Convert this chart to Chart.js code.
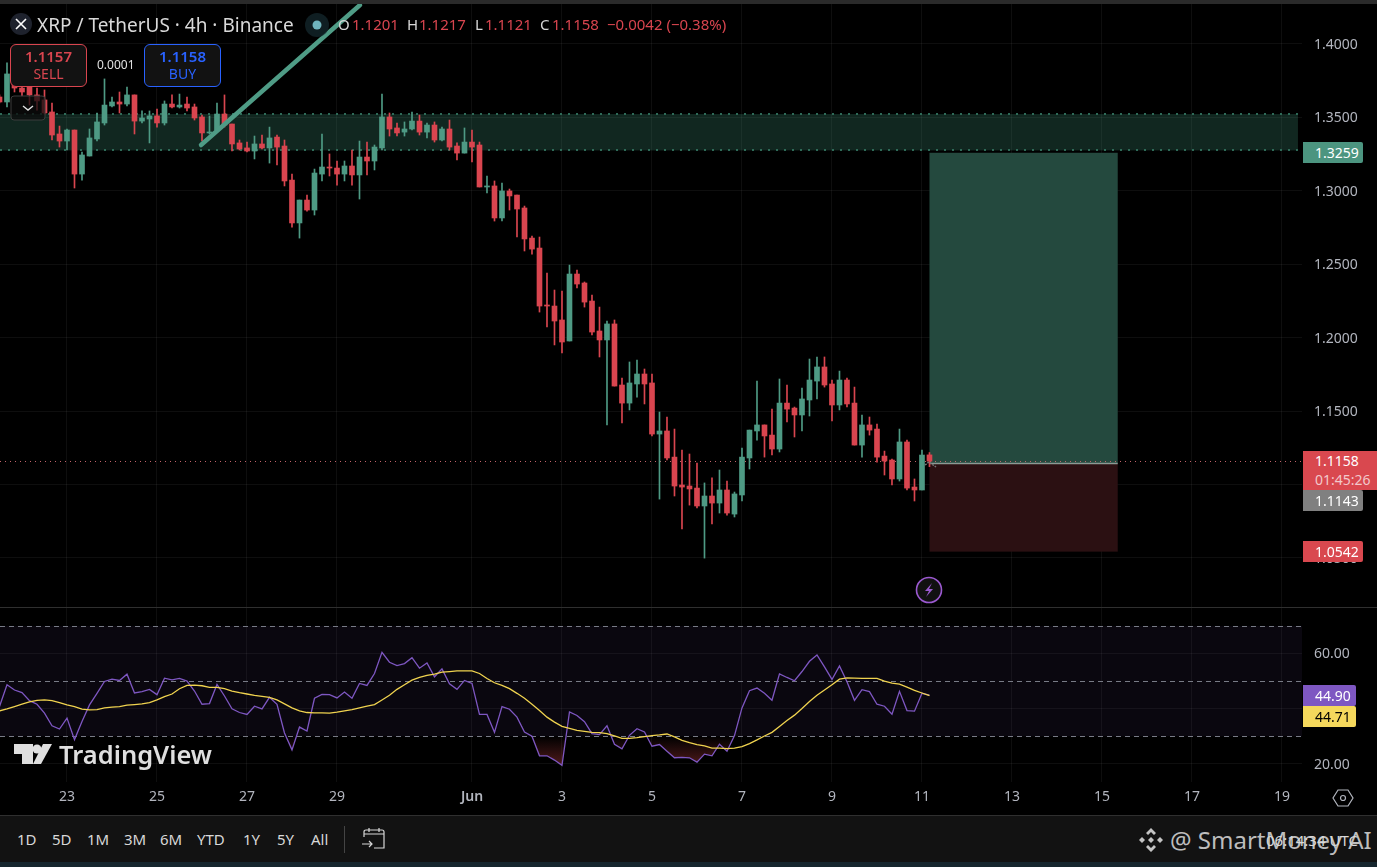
<!DOCTYPE html>
<html>
<head>
<meta charset="utf-8">
<title>XRP / TetherUS</title>
<script src="https://cdn.jsdelivr.net/npm/chart.js@4/dist/chart.umd.min.js"></script>
<style>
html, body { margin: 0; padding: 0; background: #000; overflow: hidden; }
body { width: 1377px; height: 867px; position: relative; font-family: "Noto Sans", sans-serif; color: #d6d6d6; }
canvas { position: absolute; left: 0; }
#priceChart { top: 0; }
#rsiChart { top: 608px; }
.abs { position: absolute; white-space: nowrap; }
.tag { position: absolute; left: 1303px; width: 60px; height: 21px; line-height: 21px; font-size: 14px; color: #fff; padding-left: 12px; box-sizing: border-box; border-radius: 0 2px 2px 0; }
.btn { position: absolute; top: 44px; width: 75px; height: 41px; border-radius: 6px; background: #121212; text-align: center; }
.btn b { display: block; font-size: 15px; line-height: 19px; margin-top: 2px; font-weight: 600; }
.btn span { display: block; font-size: 14px; line-height: 15px; }
.range { position: absolute; top: 829px; font-size: 15px; line-height: 20px; color: #d8d8d8; }
.ohlc { position: absolute; top: 14px; font-size: 15px; line-height: 20px; }
</style>
</head>
<body>
<canvas id="priceChart" width="1377" height="607"></canvas>
<canvas id="rsiChart" width="1377" height="207"></canvas>

<!-- header -->
<div class="abs" style="left:0;top:0;width:1377px;height:4px;background:#2a2a2a"></div>
<svg class="abs" style="left:10px;top:13px" width="22" height="22"><circle cx="11" cy="11" r="11" fill="#1e222d"/><path d="M6 6 L16 16 M16 6 L6 16" stroke="#fff" stroke-width="1.6"/></svg>
<div class="abs" style="left:37px;top:13px;font-size:19px;line-height:24px;color:#d9d9d9">XRP / TetherUS · 4h · Binance</div>
<svg class="abs" style="left:304px;top:12px" width="26" height="26"><circle cx="13" cy="13" r="12" fill="#13262a" fill-opacity="0.8"/><circle cx="13" cy="13" r="4.5" fill="#6fb4bd"/></svg>
<div class="ohlc" style="left:338px;color:#d6d6d6">O</div><div class="ohlc" style="left:352px;color:#d9454f">1.1201</div>
<div class="ohlc" style="left:407px;color:#d6d6d6">H</div><div class="ohlc" style="left:419px;color:#d9454f">1.1217</div>
<div class="ohlc" style="left:475px;color:#d6d6d6">L</div><div class="ohlc" style="left:485px;color:#d9454f">1.1121</div>
<div class="ohlc" style="left:540px;color:#d6d6d6">C</div><div class="ohlc" style="left:552px;color:#d9454f">1.1158</div>
<div class="ohlc" style="left:607px;color:#d9454f">−0.0042 (−0.38%)</div>

<div class="btn" style="left:10px;border:1px solid #d9454f;color:#d9454f"><b>1.1157</b><span>SELL</span></div>
<div class="abs" style="left:97px;top:56px;font-size:12px;line-height:18px;color:#e0e0e0">0.0001</div>
<div class="btn" style="left:144px;border:1px solid #2962ff;color:#2962ff"><b>1.1158</b><span>BUY</span></div>
<svg class="abs" style="left:10px;top:95px" width="36" height="26"><rect x="1" y="1" width="34" height="24" rx="3" fill="#0c0c0c" fill-opacity="0.75" stroke="#3c3c3c"/><path d="M13 11 L18 15 L23 11" fill="none" stroke="#e0e0e0" stroke-width="1.4"/></svg>

<!-- position tool handle and alert icon -->
<svg class="abs" style="left:922px;top:458px" width="18" height="14"><path d="M3 7 L7 4 L14 9" fill="none" stroke="#777" stroke-width="1.5" stroke-dasharray="2 1"/></svg>
<svg class="abs" style="left:915px;top:576px" width="28" height="28"><circle cx="14" cy="14" r="12.5" fill="#111" stroke="#9b59d0" stroke-width="1.6"/><path d="M17 7 L10 15 L14 15 L11 21 L18 13 L14 13 Z" fill="#9b59d0"/></svg>

<!-- price scale tags -->
<div class="tag" style="top:142px;background:#4c9580">1.3259</div>
<div class="tag" style="top:451px;width:74px;height:39px;background:#d9484f;line-height:19px;border-radius:0">1.1158<br><span style="color:#f2c9cb">01:45:26</span></div>
<div class="tag" style="top:490px;background:#808080">1.1143</div>
<div class="tag" style="top:541px;background:#d9484f">1.0542</div>
<div class="tag" style="top:685px;width:53px;background:#7e57c2">44.90</div>
<div class="tag" style="top:706px;width:53px;background:#f5d85c;color:#000">44.71</div>

<!-- pane separator and bottom bar -->
<div class="abs" style="left:0;top:607px;width:1377px;height:1px;background:#2f2f2f"></div>
<svg class="abs" style="left:1332px;top:787px" width="22" height="22"><path d="M6 3 H16 L21 11 L16 19 H6 L1 11 Z" fill="none" stroke="#b2b5be" stroke-width="1.2"/><circle cx="11" cy="11" r="2.5" fill="none" stroke="#b2b5be" stroke-width="1.2"/></svg>
<div class="abs" style="left:0;top:815px;width:1377px;height:47px;background:#121212;border-top:1px solid #2f2f2f;box-sizing:border-box"></div>
<div class="abs" style="left:0;top:862px;width:1377px;height:5px;background:#16262e"></div>
<div class="range" style="left:17px">1D</div>
<div class="range" style="left:52px">5D</div>
<div class="range" style="left:87px">1M</div>
<div class="range" style="left:124px">3M</div>
<div class="range" style="left:160px">6M</div>
<div class="range" style="left:197px">YTD</div>
<div class="range" style="left:243px">1Y</div>
<div class="range" style="left:277px">5Y</div>
<div class="range" style="left:311px">All</div>
<div class="abs" style="left:344px;top:826px;width:1px;height:27px;background:#444"></div>
<svg class="abs" style="left:361px;top:827px" width="26" height="24"><path d="M3 10 V5 Q3 3 5 3 H21 Q23 3 23 5 V21 H13 M3 7 H23 M8 1 V5 M18 1 V5 M1 17 H11 M8 14 L11 17 L8 20" fill="none" stroke="#d8d8d8" stroke-width="1.2"/></svg>

<!-- watermarks -->
<svg class="abs" style="left:12px;top:743px" width="44" height="24"><g fill="#dfdfdf"><path d="M2 1 H21 V21 H10 V11 H2 Z"/><circle cx="25" cy="6" r="4.5"/><path d="M31 1 H40 L29 21 H21 Z"/></g></svg>
<div class="abs" style="left:59px;top:737px;font-size:25.5px;line-height:34px;font-weight:600;color:#dfdfdf">TradingView</div>
<svg class="abs" style="left:1136px;top:825px" width="30" height="30"><g fill="#c4c4c4"><path d="M15 3 L20 8 L18 10 L15 7 L12 10 L10 8 Z"/><path d="M15 27 L20 22 L18 20 L15 23 L12 20 L10 22 Z"/><path d="M3 15 L6 12 L9 15 L6 18 Z"/><path d="M27 15 L24 12 L21 15 L24 18 Z"/><path d="M15 12 L18 15 L15 18 L12 15 Z"/></g></svg>
<div class="abs" style="left:1170px;top:823px;font-size:24px;line-height:34px;color:#bdbdbd">@ SmartMoney AI</div>
<div class="abs" style="left:1266px;top:830px;font-size:15px;line-height:20px;color:#d8d8d8">06:14:34 UTC</div>

<script>
// 4h candles, first one is two days of bars before the 23rd
const firstBar = -9;
const opens = [
  1.3639, 1.3605, 1.3755, 1.3700, 1.3707, 1.3653, 1.3619, 1.3537, 1.3387, 1.3339,
  1.3414, 1.3114, 1.3237, 1.3353, 1.3462, 1.3578, 1.3605, 1.3591, 1.3653, 1.3475,
  1.3489, 1.3510, 1.3462, 1.3591, 1.3571, 1.3591, 1.3571, 1.3503, 1.3394, 1.3414,
  1.3523, 1.3455, 1.3326, 1.3292, 1.3271, 1.3319, 1.3292, 1.3366, 1.3305, 1.3073,
  1.2781, 1.2937, 1.2869, 1.3114, 1.3162, 1.3155, 1.3114, 1.3169, 1.3108, 1.3230,
  1.3203, 1.3292, 1.3503, 1.3428, 1.3400, 1.3421, 1.3475, 1.3400, 1.3448, 1.3346,
  1.3421, 1.3305, 1.3257, 1.3332, 1.3312, 1.3026, 1.3033, 1.2815, 1.2999, 1.2971,
  1.2883, 1.2678, 1.2610, 1.2222, 1.2215, 1.2120, 1.1977, 1.2433, 1.2372, 1.2249,
  1.2045, 1.1984, 1.2093, 1.1677, 1.1554, 1.1684, 1.1752, 1.1691, 1.1343, 1.1364,
  1.1186, 1.0996, 1.0989, 1.0975, 1.0853, 1.0921, 1.0873, 1.0962, 1.0798, 1.0928,
  1.1180, 1.1364, 1.1405, 1.1336, 1.1241, 1.1554, 1.1520, 1.1473, 1.1575, 1.1704,
  1.1800, 1.1684, 1.1541, 1.1711, 1.1554, 1.1268, 1.1405, 1.1377, 1.1193, 1.1166,
  1.1037, 1.1289, 1.0982, 1.0962, 1.1201
];
const highs = [
  1.3653, 1.3871, 1.3809, 1.3721, 1.3721, 1.3700, 1.3687, 1.3598, 1.3441, 1.3421,
  1.3414, 1.3264, 1.3421, 1.3530, 1.3762, 1.3639, 1.3673, 1.3707, 1.3653, 1.3544,
  1.3544, 1.3557, 1.3612, 1.3653, 1.3659, 1.3639, 1.3591, 1.3516, 1.3510, 1.3598,
  1.3653, 1.3455, 1.3346, 1.3332, 1.3373, 1.3380, 1.3434, 1.3380, 1.3346, 1.3114,
  1.2937, 1.2971, 1.3148, 1.3387, 1.3251, 1.3203, 1.3203, 1.3278, 1.3339, 1.3332,
  1.3312, 1.3659, 1.3530, 1.3462, 1.3469, 1.3537, 1.3516, 1.3462, 1.3469, 1.3434,
  1.3482, 1.3326, 1.3428, 1.3414, 1.3332, 1.3101, 1.3067, 1.3053, 1.3012, 1.2971,
  1.2896, 1.2692, 1.2685, 1.2440, 1.2324, 1.2317, 1.2494, 1.2460, 1.2379, 1.2290,
  1.2208, 1.2113, 1.2120, 1.1725, 1.1834, 1.1847, 1.1786, 1.1752, 1.1493, 1.1459,
  1.1377, 1.1234, 1.1207, 1.1146, 1.1010, 1.1044, 1.1098, 1.1023, 1.0948, 1.1248,
  1.1370, 1.1704, 1.1405, 1.1513, 1.1718, 1.1677, 1.1527, 1.1657, 1.1854, 1.1868,
  1.1868, 1.1711, 1.1772, 1.1725, 1.1663, 1.1473, 1.1459, 1.1411, 1.1227, 1.1173,
  1.1377, 1.1302, 1.1037, 1.1234, 1.1217
];
const lows = [
  1.3598, 1.3571, 1.3673, 1.3646, 1.3584, 1.3550, 1.3523, 1.3346, 1.3298, 1.3278,
  1.3019, 1.3073, 1.3237, 1.3339, 1.3448, 1.3571, 1.3530, 1.3578, 1.3387, 1.3462,
  1.3326, 1.3434, 1.3448, 1.3564, 1.3564, 1.3544, 1.3482, 1.3339, 1.3387, 1.3407,
  1.3434, 1.3271, 1.3278, 1.3264, 1.3217, 1.3285, 1.3189, 1.3176, 1.3033, 1.2753,
  1.2678, 1.2862, 1.2835, 1.3067, 1.3101, 1.3039, 1.3067, 1.3039, 1.2944, 1.3108,
  1.3142, 1.3278, 1.3373, 1.3373, 1.3373, 1.3414, 1.3380, 1.3360, 1.3332, 1.3339,
  1.3278, 1.3210, 1.3257, 1.3196, 1.3026, 1.2985, 1.2794, 1.2794, 1.2869, 1.2685,
  1.2590, 1.2569, 1.2174, 1.2072, 1.1950, 1.1895, 1.1977, 1.2338, 1.2208, 1.2018,
  1.1868, 1.1405, 1.1670, 1.1418, 1.1507, 1.1595, 1.1548, 1.1330, 1.0900, 1.1166,
  1.0921, 1.0696, 1.0859, 1.0839, 1.0498, 1.0730, 1.0805, 1.0791, 1.0778, 1.0887,
  1.1105, 1.1302, 1.1186, 1.1200, 1.1221, 1.1425, 1.1323, 1.1364, 1.1466, 1.1582,
  1.1663, 1.1432, 1.1507, 1.1527, 1.1268, 1.1186, 1.1336, 1.1152, 1.1064, 1.0996,
  1.1023, 1.0962, 1.0887, 1.0962, 1.1121
];
const closes = [
  1.3605, 1.3796, 1.3700, 1.3673, 1.3653, 1.3612, 1.3530, 1.3380, 1.3339, 1.3414,
  1.3114, 1.3244, 1.3360, 1.3469, 1.3584, 1.3605, 1.3591, 1.3653, 1.3475, 1.3496,
  1.3510, 1.3462, 1.3591, 1.3571, 1.3584, 1.3564, 1.3496, 1.3394, 1.3400, 1.3523,
  1.3448, 1.3319, 1.3285, 1.3271, 1.3319, 1.3292, 1.3360, 1.3298, 1.3067, 1.2781,
  1.2937, 1.2869, 1.3121, 1.3162, 1.3155, 1.3114, 1.3169, 1.3108, 1.3230, 1.3203,
  1.3298, 1.3503, 1.3421, 1.3394, 1.3421, 1.3475, 1.3400, 1.3448, 1.3346, 1.3421,
  1.3298, 1.3257, 1.3332, 1.3298, 1.3026, 1.3033, 1.2815, 1.2999, 1.2965, 1.2876,
  1.2672, 1.2603, 1.2215, 1.2215, 1.2113, 1.1970, 1.2433, 1.2365, 1.2242, 1.2038,
  1.1984, 1.2093, 1.1670, 1.1554, 1.1691, 1.1752, 1.1684, 1.1343, 1.1364, 1.1180,
  1.0989, 1.0982, 1.0969, 1.0853, 1.0921, 1.0873, 1.0962, 1.0805, 1.0935, 1.1186,
  1.1370, 1.1405, 1.1330, 1.1241, 1.1554, 1.1513, 1.1473, 1.1582, 1.1711, 1.1800,
  1.1677, 1.1541, 1.1711, 1.1548, 1.1268, 1.1405, 1.1370, 1.1186, 1.1159, 1.1037,
  1.1289, 1.0975, 1.0962, 1.1200, 1.1158
];
const rsiValues = [
  40.78, 48.68, 46.77, 45.81, 42.93, 41.62, 38.38, 33.83, 32.64, 36.59,
  28.80, 35.39, 41.38, 45.57, 49.88, 50.72, 50.24, 52.52, 45.69, 46.17,
  47.01, 45.09, 51.08, 50.48, 50.96, 50.00, 46.41, 41.62, 41.86, 48.80,
  44.61, 39.94, 38.62, 37.91, 40.90, 39.94, 44.13, 41.62, 31.20, 25.09,
  33.35, 31.92, 43.77, 45.21, 45.09, 43.89, 46.05, 43.77, 49.16, 48.44,
  52.76, 60.42, 56.83, 55.63, 56.35, 58.50, 54.67, 56.59, 51.56, 54.43,
  49.04, 47.01, 50.24, 49.16, 37.91, 37.91, 31.44, 40.78, 39.82, 36.95,
  31.56, 30.00, 22.94, 22.94, 21.38, 19.46, 38.86, 37.55, 35.27, 30.96,
  30.60, 33.83, 27.13, 25.45, 30.36, 32.76, 31.56, 26.41, 27.01, 24.61,
  22.22, 22.34, 22.22, 20.66, 23.53, 22.94, 27.13, 24.61, 30.24, 40.30,
  46.53, 47.49, 45.57, 43.05, 52.64, 51.32, 50.12, 53.47, 57.19, 59.46,
  55.15, 50.60, 55.51, 49.76, 43.05, 46.89, 46.17, 41.62, 40.90, 38.03,
  46.29, 39.34, 39.10, 45.57, 44.90
];
const rsiSmooth = [
  39.22, 39.94, 40.78, 41.62, 42.46, 43.05, 43.17, 42.93, 42.22, 41.38,
  40.78, 39.82, 39.58, 39.70, 40.30, 40.54, 40.78, 41.26, 41.50, 41.74,
  42.22, 43.17, 44.37, 45.33, 47.25, 48.44, 48.56, 48.32, 47.73, 47.73,
  47.25, 46.41, 45.81, 45.33, 44.85, 44.49, 44.13, 43.17, 41.74, 40.30,
  39.22, 38.62, 38.50, 38.50, 38.38, 38.74, 39.22, 39.70, 40.30, 40.90,
  41.50, 43.17, 44.85, 47.01, 48.68, 50.36, 51.32, 52.04, 52.52, 53.24,
  53.47, 53.71, 53.71, 53.71, 52.76, 50.96, 49.40, 48.44, 47.25, 45.57,
  43.77, 41.62, 39.34, 36.95, 35.15, 33.59, 32.88, 32.16, 31.80, 31.44,
  31.32, 30.96, 30.12, 29.28, 29.28, 29.52, 29.88, 30.24, 30.48, 30.84,
  29.76, 28.56, 27.73, 27.01, 26.53, 25.69, 25.69, 25.57, 25.69, 26.29,
  27.37, 28.68, 30.12, 31.44, 33.59, 35.75, 37.67, 40.06, 42.58, 44.85,
  46.77, 48.68, 50.72, 51.20, 51.08, 50.96, 50.96, 50.96, 50.00, 49.28,
  48.92, 47.85, 46.65, 45.69, 44.71
];

// time axis, in 4h bars counted from the 23rd
const timeTicks = [0, 12, 24, 36, 54, 66, 78, 90, 102, 114, 126, 138, 150, 162];
const timeLabels = ['23', '25', '27', '29', 'Jun', '3', '5', '7', '9', '11', '13', '15', '17', '19'];
const rsiTicks = [20, 40, 60];
const rsiLevels = [70, 50, 30];

// drawings on the price pane
const trendBars = [17.87, 39.07];
const trendPrices = [1.3312, 1.4266];
const zoneTop = 1.3523;
const zoneBottom = 1.3275;
const zoneEnd = 164.13;
const lastPrice = 1.1158;
const positionBars = [115, 140.1];
const targetPrice = 1.3259;
const entryPrice = 1.1143;
const stopPrice = 1.0542;

const GREEN = '#4e9a84';
const RED = '#d9454f';
const GRID = 'rgba(242,242,242,0.06)';
const AXIS_TEXT = '#b2b5be';
const AXIS_FONT = { family: '"Noto Sans", sans-serif', size: 14 };

const barIndex = opens.map((_, i) => firstBar + i);
const barColors = opens.map((o, i) => (closes[i] >= o ? GREEN : RED));

function timeScale(showLabels) {
    return {
        type: 'linear',
        offset: false,
        min: -8.933,
        max: 164.67,
        afterBuildTicks: (axis) => { axis.ticks = timeTicks.map((v) => ({ value: v })); },
        afterFit: (axis) => { axis.height = showLabels ? 33 : 0; },
        grid: { color: GRID, drawTicks: false, offset: false },
        border: { display: false },
        ticks: {
            display: showLabels,
            autoSkip: false,
            maxRotation: 0,
            padding: 7,
            color: AXIS_TEXT,
            font: (ctx) => (ctx.tick && ctx.tick.value === 54 ? { ...AXIS_FONT, weight: '600' } : AXIS_FONT),
            callback: (v) => timeLabels[timeTicks.indexOf(v)]
        }
    };
}

// fixed width price scale, the tick padding must not shrink the pane
function fitPriceAxis(axis) {
    axis.width = 75;
    axis.paddingTop = 0;
    axis.paddingBottom = 0;
}

function fillBetween(chart, x1, x2, p1, p2, color) {
    const { x, y } = chart.scales;
    const left = x.getPixelForValue(x1);
    const top = y.getPixelForValue(p1);
    chart.ctx.fillStyle = color;
    chart.ctx.fillRect(left, top, x.getPixelForValue(x2) - left, y.getPixelForValue(p2) - top);
}

function hLine(chart, x1, x2, value, color, width, dash) {
    const { x, y } = chart.scales;
    const py = Math.round(y.getPixelForValue(value)) + (width === 2 ? 0 : 0.5);
    const ctx = chart.ctx;
    ctx.save();
    ctx.strokeStyle = color;
    ctx.lineWidth = width;
    ctx.setLineDash(dash);
    ctx.beginPath();
    ctx.moveTo(x.getPixelForValue(x1), py);
    ctx.lineTo(x.getPixelForValue(x2), py);
    ctx.stroke();
    ctx.restore();
}

const priceDrawings = {
    id: 'priceDrawings',
    beforeDatasetsDraw(chart) {
        const { min, max } = chart.scales.x;
        fillBetween(chart, min, zoneEnd, zoneTop, zoneBottom, 'rgba(62,140,115,0.28)');
        hLine(chart, min, zoneEnd, zoneTop, '#2f6a58', 2, [2, 6]);
        hLine(chart, min, zoneEnd, zoneBottom, '#2f6a58', 2, [2, 6]);
        fillBetween(chart, positionBars[0], positionBars[1], targetPrice, entryPrice, '#24493e');
        fillBetween(chart, positionBars[0], positionBars[1], entryPrice, stopPrice, '#2b1012');
        hLine(chart, positionBars[0], positionBars[1], entryPrice, '#8a9a94', 1.5, []);
        hLine(chart, min, max, lastPrice, '#c0646a', 1, [1, 4]);
    }
};

const rsiBand = {
    id: 'rsiBand',
    beforeDatasetsDraw(chart) {
        const { min, max } = chart.scales.x;
        fillBetween(chart, min, max, rsiLevels[0], rsiLevels[2], 'rgba(126,87,194,0.08)');
        rsiLevels.forEach((v) => hLine(chart, min, max, v, '#787b86', 1, [5, 4]));
    }
};

new Chart(document.getElementById('priceChart'), {
    type: 'bar',
    data: {
        datasets: [
            {
                type: 'line',
                order: 1,
                data: trendBars.map((b, i) => ({ x: b, y: trendPrices[i] })),
                borderColor: '#4f9c86',
                borderWidth: 4.5,
                borderCapStyle: 'round',
                pointRadius: 0
            },
            {
                order: 2,
                data: barIndex.map((b, i) => ({ x: b, y: [opens[i], closes[i]] })),
                backgroundColor: barColors,
                barThickness: 5,
                minBarLength: 1,
                grouped: false
            },
            {
                order: 3,
                data: barIndex.map((b, i) => ({ x: b, y: [lows[i], highs[i]] })),
                backgroundColor: barColors,
                barThickness: 1,
                grouped: false
            }
        ]
    },
    options: {
        responsive: false,
        animation: false,
        layout: { autoPadding: false, padding: 0 },
        plugins: { legend: { display: false }, tooltip: { enabled: false } },
        scales: {
            x: timeScale(false),
            y: {
                position: 'right',
                min: 1.01649,
                max: 1.42997,
                afterFit: fitPriceAxis,
                grid: { color: GRID, drawTicks: false },
                border: { display: false },
                ticks: {
                    stepSize: 0.05,
                    includeBounds: false,
                    padding: 12,
                    labelOffset: 1,
                    color: AXIS_TEXT,
                    font: AXIS_FONT,
                    callback: (v) => v.toFixed(4)
                }
            }
        }
    },
    plugins: [priceDrawings]
});

const rsiChart = new Chart(document.getElementById('rsiChart'), {
    type: 'line',
    data: {
        datasets: [
            {
                order: 1,
                data: barIndex.map((b, i) => ({ x: b, y: rsiSmooth[i] })),
                borderColor: '#f0d34f',
                borderWidth: 1.3,
                pointRadius: 0
            },
            {
                order: 2,
                data: barIndex.map((b, i) => ({ x: b, y: rsiValues[i] })),
                borderColor: '#7e57c2',
                borderWidth: 1.3,
                pointRadius: 0,
                fill: { target: { value: rsiLevels[2] }, above: 'rgba(0,0,0,0)', below: 'rgba(0,0,0,0)' }
            }
        ]
    },
    options: {
        responsive: false,
        animation: false,
        layout: { autoPadding: false, padding: 0 },
        plugins: { legend: { display: false }, tooltip: { enabled: false } },
        scales: {
            x: timeScale(true),
            y: {
                position: 'right',
                min: 13.44,
                max: 76.49,
                afterBuildTicks: (axis) => { axis.ticks = rsiTicks.map((v) => ({ value: v })); },
                afterFit: fitPriceAxis,
                grid: { color: GRID, drawTicks: false },
                border: { display: false },
                ticks: {
                    padding: 12,
                    labelOffset: 1,
                    color: AXIS_TEXT,
                    font: AXIS_FONT,
                    callback: (v) => v.toFixed(2)
                }
            }
        }
    },
    plugins: [rsiBand]
});

// oversold shading fades in below the 30 level
const yRsi = rsiChart.scales.y;
const oversold = rsiChart.ctx.createLinearGradient(0, yRsi.getPixelForValue(30), 0, yRsi.getPixelForValue(20));
oversold.addColorStop(0, 'rgba(150,50,50,0)');
oversold.addColorStop(1, 'rgba(150,50,50,0.5)');
rsiChart.data.datasets[1].fill.below = oversold;
rsiChart.update();
</script>
</body>
</html>
